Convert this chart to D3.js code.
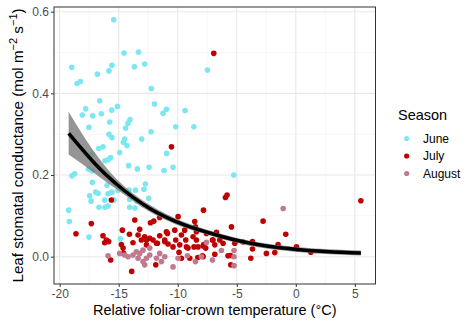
<html>
<head>
<title>Stomatal conductance</title>
<style>
  body { margin: 0; background: #fff; }
  text { font-family: "Liberation Sans", Arial, sans-serif; }
</style>
</head>
<body>
<script src="https://d3js.org/d3.v7.min.js"></script>
<script>
// June points (relative foliar-crown temperature, conductance)
var juneX = [-15.42,-18.98,-18.53,-18.25,-16.81,-15.82,-15.57,-14.55,-13.33,-13.67,-12.80,-12.23,-7.48,-16.61,-17.80,-18.08,-17.20,-16.47,-15.59,-15.11,-11.97,-11.24,-10.96,-9.38,-10.17,-8.64,-12.26,-17.52,-15.76,-14.04,-14.21,-14.41,-15.82,-15.57,-14.49,-13.05,-14.6,-14.30,-16.33,-16.69,-14.92,-17.23,-15.68,-16.16,-15.87,-17.57,-17.23,-14.15,-13.42,-12.43,-11.16,-10.93,-18.96,-18.73,-10.40,-17.23,-16.95,-17.46,-17.34,-16.75,-15.99,-15.25,-15.06,-15.57,-15.90,-16.19,-16.67,-16.16,-15.90,-15.40,-14.13,-13.58,-12.74,-12.86,-14.07,-13.45,-13.62,-14.07,-12.46,-19.24,-19.18,-17.52,-14.86,-5.25];
var juneY = [0.580,0.464,0.424,0.429,0.447,0.455,0.469,0.499,0.501,0.465,0.472,0.412,0.457,0.382,0.362,0.347,0.345,0.350,0.359,0.368,0.374,0.351,0.361,0.358,0.318,0.318,0.306,0.317,0.330,0.336,0.327,0.315,0.300,0.292,0.288,0.288,0.280,0.272,0.269,0.265,0.255,0.251,0.243,0.235,0.238,0.214,0.210,0.223,0.215,0.219,0.211,0.253,0.198,0.203,0.219,0.182,0.158,0.149,0.136,0.155,0.175,0.180,0.163,0.158,0.154,0.139,0.121,0.121,0.124,0.139,0.163,0.163,0.178,0.165,0.140,0.136,0.119,0.121,0.143,0.114,0.086,0.048,0.044,0.200];

var julyX = [-6.95,-10.53,-15.62,-7.82,-17.32,-18.62,-14.69,-14.09,-13.64,-13.22,-12.31,-12.03,-11.53,-9.97,-8.56,-8.50,-9.41,-10.25,-10.87,-16.33,-16.04,-16.19,-13.36,-12.80,-12.65,-12.09,-11.72,-11.10,-10.82,-10.17,-9.69,-9.32,-8.70,-8.42,-8.62,-9.26,-7.80,-13.08,-11.53,-13.79,-12.65,-15.85,-14.77,-14.63,-15.68,-14.58,-13.90,-11.86,-9.89,-9.69,-8.98,-8.30,-7.85,-11.10,-9.83,-12.37,-10.96,-8.42,-7.57,-7.01,-9.13,-8.28,-7.63,-10.40,-11.80,-5.82,-5.96,5.51,-2.77,-5.45,-0.85,-6.72,-1.50,0.06,1.27,-1.78,-2.49,-3.81,-3.67,-3.67,-4.47,-5.17,-5.53,-5.51,-6.16,-6.86,-7.06,-7.85,-7.91,-6.86,-5.74,-6.44];
var julyY = [0.498,0.269,0.139,0.114,0.081,0.056,0.065,0.055,0.090,0.067,0.083,0.087,0.096,0.098,0.086,0.073,0.065,0.065,0.057,0.051,0.041,0.034,0.053,0.049,0.041,0.041,0.033,0.041,0.031,0.041,0.053,0.041,0.049,0.041,0.024,0.024,0.030,0.041,0.051,0.034,0.029,0.037,0.030,0.021,-0.008,0.008,-0.036,-0.020,0.011,-0.004,-0.004,-0.002,0.000,0.037,0.029,0.045,0.061,0.061,0.057,0.041,0.021,0.024,0.021,0.024,0.033,0.151,0.145,0.137,0.087,0.073,0.055,0.060,0.030,0.024,0.011,0.010,0.008,-0.004,0.019,0.037,0.036,0.033,0.003,-0.020,0.033,0.029,0.041,0.026,0.002,0.006,0.002,0.041];

var augX = [-1.07,-7.57,-6.30,-5.23,-5.23,-7.06,-5.23,-15.90,-14.92,-14.21,-13.79,-13.22,-12.94,-13.36,-12.94,-12.80,-12.37,-11.80,-11.53,-11.10,-11.38,-10.40,-12.37,-12.65,-9.18,-7.99,-8.50,-9.97,-14.49,-13.50];
var augY = [0.118,0.035,0.015,0.015,0.000,-0.008,-0.022,0.002,0.008,0.000,0.004,0.008,0.016,-0.004,-0.012,-0.020,0.004,-0.004,0.008,0.000,-0.012,-0.025,0.021,-0.004,0.002,0.000,-0.012,-0.004,0.004,0.012];

// fitted curve and confidence band
var fitX  = [-19.24,-17.3,-15.9,-15.2,-12.37,-9.55,-7.29,-5.31,-2.49,0.34,5.51];
var fitY  = [0.302,0.237,0.196,0.178,0.118,0.079,0.058,0.042,0.026,0.017,0.009];
var fitLo = [0.250,0.210,0.180,0.166,0.110,0.072,0.052,0.036,0.020,0.011,0.003];
var fitHi = [0.355,0.266,0.213,0.191,0.127,0.086,0.064,0.048,0.032,0.023,0.015];

var xTicks = [-20,-15,-10,-5,0,5];
var xMinor = [-17.5,-12.5,-7.5,-2.5,2.5];
var yTicks = [0,0.2,0.4,0.6];
var yMinor = [0.1,0.3,0.5];

var seasons = ['June','July','August'];
var seasonColors = ['#7ce6f2','#c00000','#c07a90'];

var width = 474, height = 326;
var panel = {left: 54, right: 375.5, top: 7, bottom: 284};

var x = d3.scaleLinear().domain([-20.48, 6.75]).range([panel.left, panel.right]);
var y = d3.scaleLinear().domain([-0.0669, 0.6115]).range([panel.bottom, panel.top]);

var svg = d3.select('body')
    .append('svg')
    .attr('width', width)
    .attr('height', height);

// grid
var grid = svg.append('g');
grid.selectAll('.xminor').data(xMinor).enter().append('line')
    .attr('x1', function(d) { return x(d); }).attr('x2', function(d) { return x(d); })
    .attr('y1', panel.top).attr('y2', panel.bottom)
    .attr('stroke', '#f2f2f2').attr('stroke-width', 0.6);
grid.selectAll('.yminor').data(yMinor).enter().append('line')
    .attr('y1', function(d) { return y(d); }).attr('y2', function(d) { return y(d); })
    .attr('x1', panel.left).attr('x2', panel.right)
    .attr('stroke', '#f2f2f2').attr('stroke-width', 0.6);
grid.selectAll('.xmajor').data(xTicks).enter().append('line')
    .attr('x1', function(d) { return x(d); }).attr('x2', function(d) { return x(d); })
    .attr('y1', panel.top).attr('y2', panel.bottom)
    .attr('stroke', '#e8e8e8').attr('stroke-width', 1.1);
grid.selectAll('.ymajor').data(yTicks).enter().append('line')
    .attr('y1', function(d) { return y(d); }).attr('y2', function(d) { return y(d); })
    .attr('x1', panel.left).attr('x2', panel.right)
    .attr('stroke', '#e8e8e8').attr('stroke-width', 1.1);

// points
function pts(xs, ys) {
    return xs.map(function(v, i) { return {x: v, y: ys[i]}; });
}
var groups = [pts(juneX, juneY), pts(julyX, julyY), pts(augX, augY)];
groups.forEach(function(g, i) {
    svg.append('g').selectAll('circle').data(g).enter().append('circle')
        .attr('cx', function(d) { return x(d.x); })
        .attr('cy', function(d) { return y(d.y); })
        .attr('r', 2.8)
        .style('fill', seasonColors[i]);
});

// ribbon + fit line
var fit = fitX.map(function(v, i) { return {x: v, y: fitY[i], lo: fitLo[i], hi: fitHi[i]}; });

svg.append('path')
    .datum(fit)
    .attr('d', d3.area()
        .curve(d3.curveMonotoneX)
        .x(function(d) { return x(d.x); })
        .y0(function(d) { return y(d.lo); })
        .y1(function(d) { return y(d.hi); }))
    .style('fill', '#7a7a7a')
    .style('opacity', 0.8);

svg.append('path')
    .datum(fit)
    .attr('d', d3.line()
        .curve(d3.curveMonotoneX)
        .x(function(d) { return x(d.x); })
        .y(function(d) { return y(d.y); }))
    .style('fill', 'none')
    .style('stroke', '#000')
    .style('stroke-width', 3.6);

// panel border
svg.append('rect')
    .attr('x', panel.left).attr('y', panel.top)
    .attr('width', panel.right - panel.left)
    .attr('height', panel.bottom - panel.top)
    .style('fill', 'none').style('stroke', '#333').style('stroke-width', 1);

// axes
var xAxis = svg.append('g')
    .attr('transform', 'translate(0,' + panel.bottom + ')')
    .call(d3.axisBottom(x).tickValues(xTicks).tickSize(3).tickPadding(2).tickFormat(d3.format('d')));
var yAxis = svg.append('g')
    .attr('transform', 'translate(' + panel.left + ',0)')
    .call(d3.axisLeft(y).tickValues(yTicks).tickSize(3).tickPadding(2).tickFormat(d3.format('.1f')));

[xAxis, yAxis].forEach(function(a) {
    a.select('.domain').remove();
    a.selectAll('line').attr('stroke', '#333');
    a.selectAll('text')
        .style('font-family', '"Liberation Sans", Arial, sans-serif')
        .style('font-size', '12px')
        .style('fill', '#4d4d4d');
});
xAxis.selectAll('text').text(function(d) { return d < 0 ? '-' + Math.abs(d) : d; });

// axis titles
svg.append('text')
    .attr('x', (panel.left + panel.right) / 2)
    .attr('y', 315)
    .attr('text-anchor', 'middle')
    .style('font-size', '14.5px')
    .text('Relative foliar-crown temperature (°C)');

var yt = svg.append('text')
    .attr('transform', 'translate(23,' + ((panel.top + panel.bottom) / 2) + ') rotate(-90)')
    .attr('text-anchor', 'middle')
    .style('font-size', '15.2px');
yt.append('tspan').text('Leaf stomatal conductance (mol m');
yt.append('tspan').attr('dy', -6).style('font-size', '11px').text('−2');
yt.append('tspan').attr('dy', 6).text(' s');
yt.append('tspan').attr('dy', -6).style('font-size', '11px').text('−1');
yt.append('tspan').attr('dy', 6).text(')');

// legend
var legend = svg.append('g');
legend.append('text')
    .attr('x', 398).attr('y', 120)
    .style('font-size', '14.5px')
    .text('Season');
var items = legend.selectAll('.item').data(seasons).enter().append('g')
    .attr('transform', function(d, i) { return 'translate(0,' + (138.5 + i * 17.5) + ')'; });
items.append('circle')
    .attr('cx', 406.7).attr('cy', 0).attr('r', 2.6)
    .style('fill', function(d, i) { return seasonColors[i]; });
items.append('text')
    .attr('x', 423).attr('y', 4.3)
    .style('font-size', '12px')
    .text(function(d) { return d; });
</script>
</body>
</html>
